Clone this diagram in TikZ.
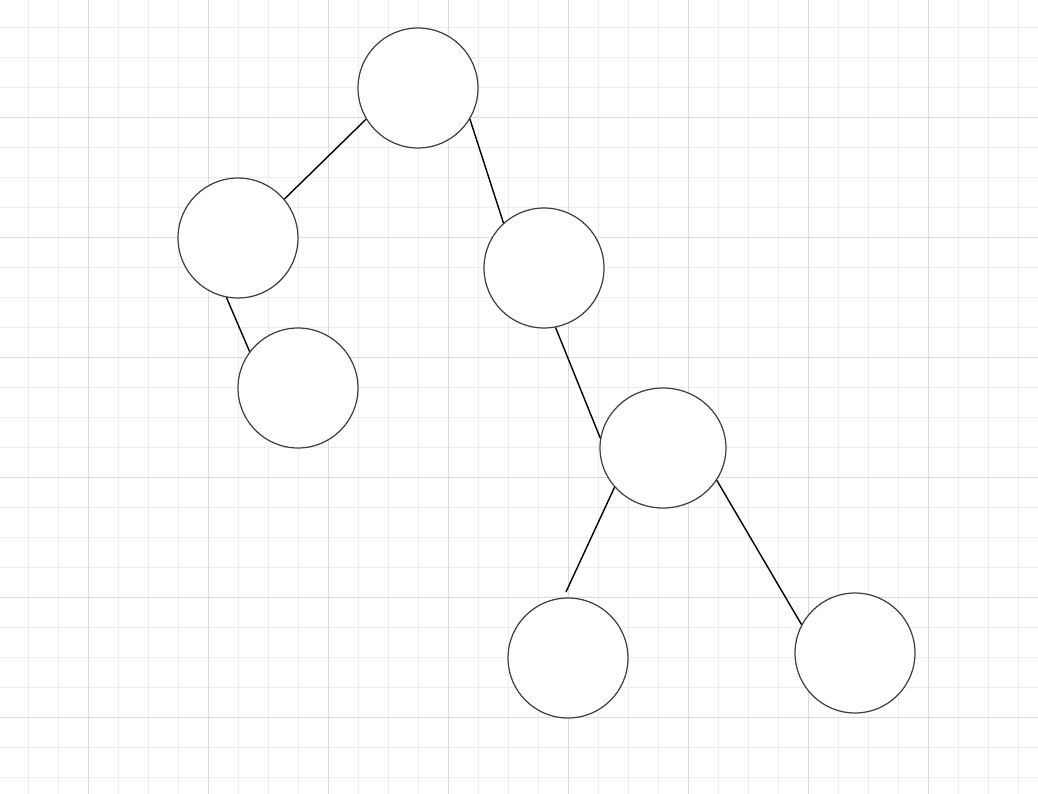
\documentclass[tikz,border=0pt]{standalone}
\usetikzlibrary{shapes.geometric}
\begin{document}
\begin{tikzpicture}[
  x=0.02cm, y=-0.02cm,
  vertex/.style={circle,draw=black!75,line width=0.7pt,fill=white,
    minimum size=2.4cm,inner sep=0pt},
  link/.style={line width=0.8pt},
  minorline/.style={draw=black!7,line width=0.5pt},
  majorline/.style={draw=black!14,line width=0.5pt},
]
\useasboundingbox (0,0) rectangle (1038,794);
% background grid
\foreach \x in {28,58,...,1018} \draw[minorline] (\x,0) -- (\x,794);
\foreach \y in {27,57,...,777} \draw[minorline] (0,\y) -- (1038,\y);
\foreach \x in {88,208,...,928} \draw[majorline] (\x,0) -- (\x,794);
\foreach \y in {117,237,...,717} \draw[majorline] (0,\y) -- (1038,\y);
% the tree
\node[vertex] (root) at (418,88) {};
\node[vertex] (l) at (238,238) {};
\node[vertex] (lr) at (298,388) {};
\node[vertex] (r) at (544,268) {};
\node[vertex,ellipse,minimum width=2.52cm,minimum height=2.4cm] (rr) at (663,448) {};
\node[vertex] (rrl) at (568,658) {};
\node[vertex] (rrr) at (855,653) {};
\draw[link] (root.211) -- (l.40);
\draw[link] (l.-101) -- (lr.143);
\draw[link] (root.-31) -- (r.132);
\draw[link] (r.-79) -- (rr.171);
\draw[link] (rr.-141) -- ([yshift=3pt]rrl.92);
\draw[link] (rr.-31) -- (rrr.152);
\end{tikzpicture}
\end{document}
